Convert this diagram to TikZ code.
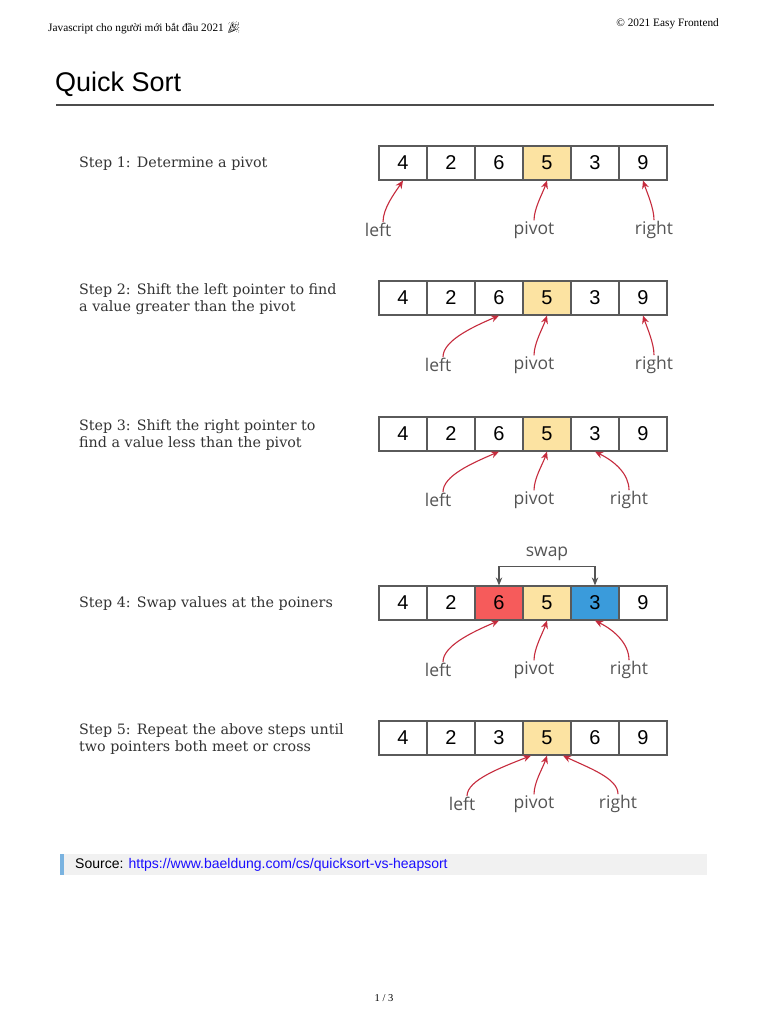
\documentclass[tikz,border=0pt]{standalone}
\usepackage{fontspec}
\setmainfont{DejaVu Serif}
\newfontfamily\hdrfont{Liberation Serif}
\newfontfamily\arialfont{Liberation Sans}
\newfontfamily\handfont{Open Sans}
\newfontfamily\emojifont{Noto Emoji}
\usetikzlibrary{arrows.meta}
\definecolor{pivotc}{HTML}{FCE3A2}
\definecolor{redc}{HTML}{F65B5B}
\definecolor{bluec}{HTML}{3A9BDB}
\definecolor{arrowc}{HTML}{C62B3D}
\definecolor{labc}{HTML}{555555}
\definecolor{cellb}{HTML}{5A5A5A}
\definecolor{srcbg}{HTML}{F1F1F1}
\definecolor{srcbar}{HTML}{7AB3E0}
\definecolor{linkc}{HTML}{1A0DFF}
\definecolor{stepc}{HTML}{333333}
\newcommand\qsrow[3]{%
  \foreach \v/\f [count=\i] in {#3}
    \node[cell,fill=\f] (#1\i) at ({379+24+48*(\i-1)},#2) {\v};}
\begin{document}
\begin{tikzpicture}[x=1pt,y=-1pt,
  cell/.style={draw=cellb,line width=1.2pt,minimum width=48pt,minimum height=34pt,inner sep=0pt,
    font=\arialfont\fontsize{20}{20}\selectfont},
  steptext/.style={anchor=west,align=left,inner sep=0pt,text=stepc,font=\fontsize{14.3}{16.5}\selectfont},
  lab/.style={inner sep=1pt,text=labc,font=\handfont\fontsize{17.5}{17.5}\selectfont},
  ptr/.style={draw=arrowc,line width=1.1pt,-{Stealth[length=8pt,width=7pt]}},
  swapline/.style={draw=labc,line width=1.1pt,{Stealth[length=8pt,width=6.5pt]}-{Stealth[length=8pt,width=6.5pt]}}]
\useasboundingbox (0,0) rectangle (768,1024);
\fill[white] (0,0) rectangle (768,1024);
% header
\node[anchor=west,inner sep=0pt,font=\hdrfont\fontsize{11.3}{12}\selectfont] (hdl) at (48,28) {Javascript cho người mới bắt đầu 2021 {\emojifont 🎉}};
\node[anchor=east,inner sep=0pt,font=\hdrfont\fontsize{11.3}{12}\selectfont] (hdr) at (719,24) {© 2021 Easy Frontend};
\node[anchor=west,inner sep=0pt,font=\arialfont\fontsize{27}{27}\selectfont] (title) at (55,84) {Quick Sort};
\coordinate (rl) at (56,105);
\coordinate (rr) at (714,105);
\draw[line width=1.3pt,black!70] (rl) -- (rr);
% steps text
\node[steptext] (s1) at (79,164) {Step 1: Determine a pivot};
\node[steptext] (s2) at (79,299) {Step 2: Shift the left pointer to find\\a value greater than the pivot};
\node[steptext] (s3) at (79,435) {Step 3: Shift the right pointer to\\find a value less than the pivot};
\node[steptext] (s4) at (79,604) {Step 4: Swap values at the poiners};
\node[steptext] (s5) at (79,739) {Step 5: Repeat the above steps until\\two pointers both meet or cross};
% rows
\qsrow{a}{163}{4/white,2/white,6/white,5/pivotc,3/white,9/white}
\qsrow{b}{298}{4/white,2/white,6/white,5/pivotc,3/white,9/white}
\qsrow{c}{434}{4/white,2/white,6/white,5/pivotc,3/white,9/white}
\qsrow{d}{603}{4/white,2/white,6/redc,5/pivotc,3/bluec,9/white}
\qsrow{e}{738}{4/white,2/white,3/white,5/pivotc,6/white,9/white}
% step 1 labels
\node[lab] (aL) at (378,230) {left};
\node[lab] (aP) at (534,230) {pivot};
\node[lab] (aR) at (654,230) {right};
\draw[ptr] ([xshift=5pt]aL.north) .. controls +(0,-14) and +(-8,12) .. (a1.south);
\draw[ptr] (aP.north) .. controls +(0,-12) and +(-4,12) .. (a4.south);
\draw[ptr] (aR.north) .. controls +(0,-12) and +(4,12) .. (a6.south);
% step 2
\node[lab] (bL) at (438,365) {left};
\node[lab] (bP) at (534,365) {pivot};
\node[lab] (bR) at (654,365) {right};
\draw[ptr] ([xshift=5pt]bL.north) .. controls +(0,-16) and +(-28,12) .. (b3.south);
\draw[ptr] (bP.north) .. controls +(0,-12) and +(-4,12) .. (b4.south);
\draw[ptr] (bR.north) .. controls +(0,-12) and +(4,12) .. (b6.south);
% step 3
\node[lab] (cL) at (438,500) {left};
\node[lab] (cP) at (534,500) {pivot};
\node[lab] (cR) at (629,500) {right};
\draw[ptr] ([xshift=5pt]cL.north) .. controls +(0,-16) and +(-28,12) .. (c3.south);
\draw[ptr] (cP.north) .. controls +(0,-12) and +(-4,12) .. (c4.south);
\draw[ptr] (cR.north) .. controls +(0,-16) and +(20,10) .. (c5.south);
% step 4
\node[lab,inner sep=0pt] (swp) at (547,554) {swap};
\draw[swapline] (d3.north) -- ++(0,-19) -| (d5.north);
\node[lab] (dL) at (438,670) {left};
\node[lab] (dP) at (534,670) {pivot};
\node[lab] (dR) at (629,670) {right};
\draw[ptr] ([xshift=5pt]dL.north) .. controls +(0,-16) and +(-28,12) .. (d3.south);
\draw[ptr] (dP.north) .. controls +(0,-12) and +(-4,12) .. (d4.south);
\draw[ptr] (dR.north) .. controls +(0,-16) and +(20,10) .. (d5.south);
% step 5
\node[lab] (eL) at (462,804) {left};
\node[lab] (eP) at (534,804) {pivot};
\node[lab] (eR) at (618,804) {right};
\draw[ptr] ([xshift=5pt]eL.north) .. controls +(0,-16) and +(-30,12) .. ([xshift=-16pt]e4.south);
\draw[ptr] (eP.north) .. controls +(0,-12) and +(-4,12) .. (e4.south);
\draw[ptr] (eR.north) .. controls +(0,-16) and +(25,12) .. ([xshift=16pt]e4.south);
% source
\fill[srcbg] (60,854) rectangle (707,875);
\fill[srcbar] (60,854) rectangle (64,875);
\node[anchor=west,inner sep=0pt,font=\arialfont\fontsize{14}{14}\selectfont] (src) at (75,864.5) {Source: \textcolor{linkc}{https://www.baeldung.com/cs/quicksort-vs-heapsort}};
% footer
\node[inner sep=0pt,font=\hdrfont\fontsize{10.5}{10.5}\selectfont] (pg) at (384,998) {1 / 3};
\end{tikzpicture}
\end{document}
